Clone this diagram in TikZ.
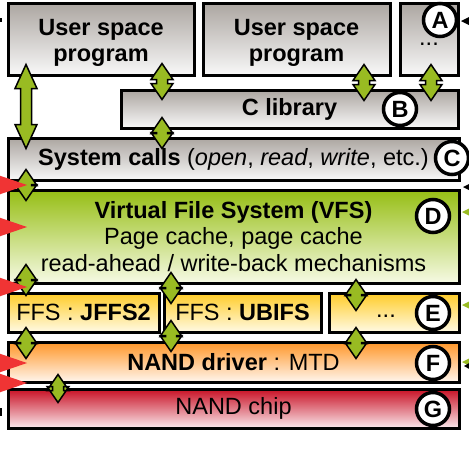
\documentclass[tikz,border=0pt]{standalone}
\usepackage{fontspec}
\setmainfont{Liberation Sans}
\usetikzlibrary{calc}

\definecolor{graytop}{RGB}{172,166,161}
\definecolor{graybot}{RGB}{248,248,248}
\definecolor{greentop}{RGB}{150,190,20}
\definecolor{greenbot}{RGB}{246,250,228}
\definecolor{yellowtop}{RGB}{255,204,40}
\definecolor{yellowbot}{RGB}{255,250,228}
\definecolor{orangetop}{RGB}{255,150,40}
\definecolor{orangebot}{RGB}{255,246,238}
\definecolor{redtop}{RGB}{200,16,36}
\definecolor{redbot}{RGB}{250,232,236}
\definecolor{arrowgreen}{RGB}{153,187,34}
\definecolor{tipred}{RGB}{240,52,52}

\newcommand\layerfont{\fontsize{23.5}{26.5}\selectfont}
\newcommand\headlen{16pt}

\tikzset{
  layer/.style={draw=black, line width=3pt, inner sep=0pt, align=center, font=\layerfont},
  grayfill/.style={top color=graytop, bottom color=graybot},
  greenfill/.style={top color=greentop, bottom color=greenbot},
  yellowfill/.style={top color=yellowtop, bottom color=yellowbot},
  orangefill/.style={top color=orangetop, bottom color=orangebot},
  redfill/.style={top color=redtop, bottom color=redbot},
  tag/.style={circle, draw=black, line width=3.5pt, fill=white, minimum size=33pt, inner sep=0pt, font=\layerfont\bfseries},
  fatarr/.style={draw=black, line width=1.5pt, fill=arrowgreen, line join=miter},
  redtip/.style={fill=tipred},
}

% fat double arrow: [shift]{x}{upper node}{lower node}
\newcommand\fatarrow[4][0]{%
  \coordinate (t) at ($(#3.south -| #2,0)+(0,{(#1)-12})$);
  \coordinate (b) at ($(#4.north -| #2,0)+(0,{(#1)+12})$);
  \path[fatarr] (t) -- ++(11pt,-\headlen) -- ++(-5.5pt,0pt)
    -- ([shift={(5.5pt,\headlen)}]b) -- ++(5.5pt,0pt) -- (b)
    -- ++(-11pt,\headlen) -- ++(5.5pt,0pt)
    -- ([shift={(-5.5pt,-\headlen)}]t) -- ++(-5.5pt,0pt) -- cycle;
}

\begin{document}
\begin{tikzpicture}[x=1pt,y=-1pt]
  \useasboundingbox (0,0) rectangle (469,469);

  % layers
  \node[layer,grayfill,minimum width=186,minimum height=72,font=\layerfont\bfseries] (usr1) at (101,39) {\rule{0pt}{24pt}User space\\program};
  \node[layer,grayfill,minimum width=187,minimum height=72,font=\layerfont\bfseries] (usr2) at (296.5,39) {\rule{0pt}{24pt}User space\\program};
  \node[layer,grayfill,minimum width=58,minimum height=72] (usr3) at (429,39) {\rule{0pt}{12pt}...};
  \node[layer,grayfill,minimum width=337,minimum height=38,font=\layerfont\bfseries] (clib) at (289.5,109) {C library};
  \node[layer,grayfill,minimum width=451,minimum height=42] (sys) at (233.5,159) {\textbf{System calls} (\textit{open}, \textit{read}, \textit{write}, etc.)};
  \node[layer,greenfill,minimum width=451,minimum height=93] (vfs) at (233.5,236.5) {\textbf{Virtual File System (VFS)}\\Page cache, page cache\\read-ahead / write-back mechanisms};
  \node[layer,yellowfill,minimum width=151,minimum height=39] (jffs) at (83.5,312.5) {FFS : \textbf{JFFS2}};
  \node[layer,yellowfill,minimum width=157,minimum height=39] (ubifs) at (242.5,312.5) {FFS : \textbf{UBIFS}};
  \node[layer,yellowfill,minimum width=130,minimum height=39] (ffsx) at (394,312.5) {\strut...\hspace*{16pt}};
  \node[layer,orangefill,minimum width=451,minimum height=40] (nand) at (233.5,362) {\textbf{NAND driver} : MTD};
  \node[layer,redfill,minimum width=451,minimum height=39] (chip) at (233.5,408.5) {NAND chip};

  % arrows between layers
  {\renewcommand\headlen{24pt}\fatarrow{26}{usr1}{sys}}
  \fatarrow[-1]{162}{usr1}{clib}
  \fatarrow{162}{clib}{sys}
  \fatarrow{364}{usr2}{clib}
  \fatarrow{431}{usr3}{clib}
  \fatarrow{26}{sys}{vfs}
  \fatarrow[-8]{26}{vfs}{jffs}
  \fatarrow{171}{vfs}{ubifs}
  \fatarrow[7]{356}{vfs}{ffsx}
  \fatarrow[6]{26}{jffs}{nand}
  \fatarrow[-1]{171}{ubifs}{nand}
  \fatarrow[6]{356}{ffsx}{nand}
  \fatarrow[3]{58}{nand}{chip}

  % arrows coming in from the sides
  \foreach \y in {185,227,287,363,383}
    \fill[redtip] (27,\y) -- (-8,\y-12) -- (-8,\y+12) -- cycle;
  \foreach \y in {212,305,362}
    \fill[arrowgreen] (462,\y) -- (480,\y-9) -- (480,\y+9) -- cycle;
  \fill (461,21) -- (471,16) -- (471,26) -- cycle;
  \fill (463,187) -- (471,183) -- (471,191) -- cycle;
  \fill (464,366) -- (471,362) -- (471,370) -- cycle;
  \fill (-2,18) rectangle (2,22);
  \fill (-2,408) rectangle (2,416);

  % tags
  \foreach \t/\x/\y in {A/440/20,B/400/109,C/452/158,D/433/216,E/433/313,F/433/363,G/433/409}
    \node[tag] (tag\t) at (\x,\y) {\t};
\end{tikzpicture}
\end{document}
